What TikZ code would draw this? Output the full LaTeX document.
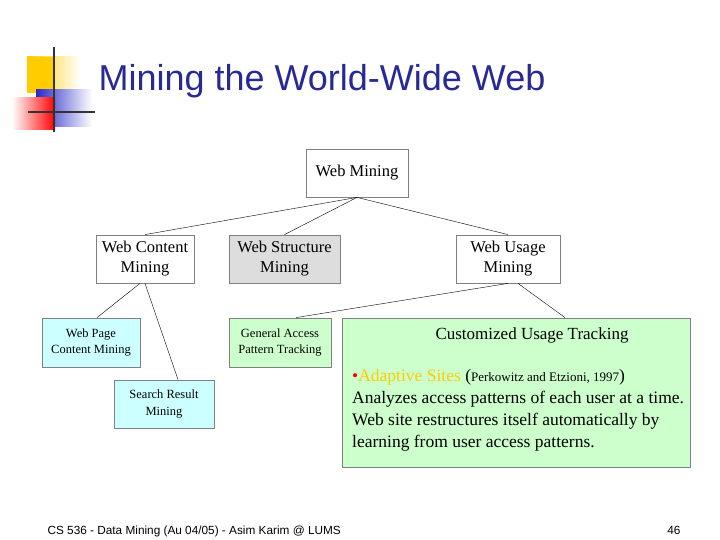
\documentclass[tikz,border=0pt]{standalone}
\usepackage{fontspec}
\setmainfont{Liberation Serif}
\newfontfamily\titlefont{Liberation Sans}
\definecolor{titleblue}{RGB}{40,40,150}
\definecolor{boxgray}{RGB}{128,128,128}
\definecolor{paleblue}{RGB}{204,255,255}
\definecolor{palegreen}{RGB}{204,255,204}
\definecolor{structgray}{RGB}{221,221,221}
\definecolor{logoyellow}{RGB}{255,204,0}
\definecolor{logoblue}{RGB}{40,40,200}
\definecolor{adaptyellow}{RGB}{255,204,0}
\begin{document}
\begin{tikzpicture}[x=1pt,y=-1pt,
    box/.style = {draw=boxgray, thick, align=center, inner sep=1pt, font=\fontsize{16.5}{20}\selectfont},
    small/.style = {box, font=\fontsize{12.5}{16.5}\selectfont}]
  \useasboundingbox (0,0) rectangle (720,540);

  % logo
  \shade[left color=logoyellow, right color=white] (27,57) rectangle (80,93);
  \fill[logoyellow] (27,57) rectangle (55,93);
  \shade[left color=logoblue, right color=white] (36,90) rectangle (92,127);
  \shade[left color=white, right color=red] (12,98) rectangle (55,130);
  \draw[line width=2pt, black!80] (54,47) -- (54,132);
  \draw[line width=2pt, black!80] (28,112) -- (95,112);

  % title
  \node[anchor=base west, text=titleblue, font=\titlefont\fontsize{36}{40}\selectfont] (title) at (95,91) {Mining the World-Wide Web};

  % tree
  \node[box, minimum width=102, minimum height=48] (wm) at (357,173) {Web Mining};
  \node[box, minimum width=98, minimum height=48] (wc) at (145,259) {Web Content\\Mining};
  \node[box, fill=structgray, minimum width=111, minimum height=48] (ws) at (284.5,259) {Web Structure\\Mining};
  \node[box, minimum width=104, minimum height=48] (wu) at (508,259) {Web Usage\\Mining};
  \node[small, fill=paleblue, minimum width=98, minimum height=49] (wpc) at (91,342.5) {Web Page\\Content Mining};
  \node[small, fill=paleblue, minimum width=100, minimum height=48] (srm) at (164,404) {Search Result\\Mining};
  \node[small, fill=palegreen, minimum width=102, minimum height=49] (gap) at (280,342.5) {General Access\\Pattern Tracking};
  \node[box, fill=palegreen, minimum width=348, minimum height=149] (cut) at (516,392.5) {};
  \node[font=\fontsize{17}{20}\selectfont] (cuttitle) at (532,335) {Customized Usage Tracking};
  \node[anchor=north west, align=left, inner sep=0pt, font=\fontsize{17.5}{22}\selectfont] (cuttext) at (352,369)
    {{\color{red}\textbullet}{\color{adaptyellow}Adaptive Sites} ({\fontsize{13}{15}\selectfont Perkowitz and Etzioni, 1997})\\
     Analyzes access patterns of each user at a time.\\
     Web site restructures itself automatically by\\
     learning from user access patterns.};

  \draw (wm.south) -- (wc.north);
  \draw (wm.south) -- (ws.north);
  \draw (wm.south) -- (wu.north);
  \draw ([xshift=-5pt]wc.south) -- ([xshift=6pt]wpc.north);
  \draw (wc.south) -- ([xshift=14pt]srm.north);
  \draw (wu.south) -- ([xshift=16pt]gap.north);
  \draw ([xshift=10pt]wu.south) -- ([xshift=49pt]cut.north);

  % footer
  \node[anchor=base west, font=\titlefont\fontsize{11.8}{14}\selectfont] (foot) at (44,534) {CS 536 - Data Mining (Au 04/05) - Asim Karim @ LUMS};
  \node[anchor=base east, font=\titlefont\fontsize{11.8}{14}\selectfont] (page) at (684,534) {46};
\end{tikzpicture}
\end{document}
